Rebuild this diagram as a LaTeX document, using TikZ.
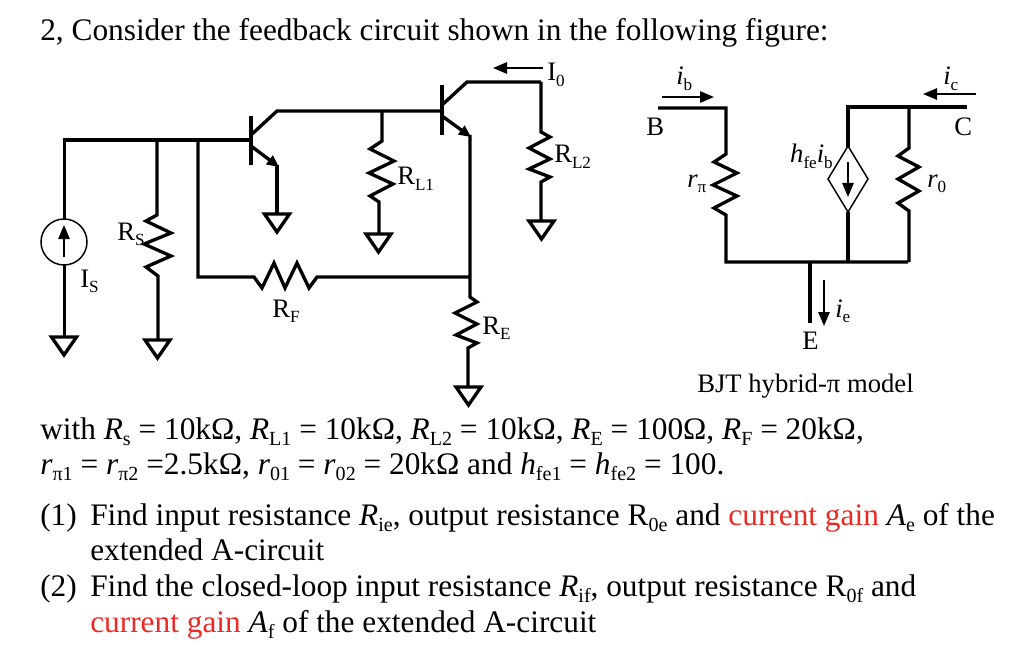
\documentclass[tikz,border=0pt]{standalone}
\usepackage{fontspec}
\setmainfont{Liberation Serif}
\usepackage{xcolor}
\usetikzlibrary{arrows.meta}
\definecolor{gainred}{RGB}{236,40,36}
\makeatletter
\newcommand{\sbs}[1]{\raisebox{-0.2em}{\fontsize{\strip@pt\dimexpr0.64\dimexpr\f@size pt\relax\relax}{0}\selectfont #1}}
\makeatother
\newcommand{\R}[1]{\textit{R}\sbs{#1}}
\newcommand{\grnd}[1]{\draw[wire,fill=white] (#1) ++(-12.5,0) -- ++(25,0) -- ++(-12.5,18) -- cycle;}
\tikzset{
  wire/.style={line width=2.5pt,line join=miter},
  thin wire/.style={line width=1.1pt},
  cur/.style={line width=1.3pt,-{Triangle[length=10.5pt,width=8.5pt]}},
  txt/.style={anchor=base west,inner sep=0pt,font=\fontsize{23.5}{28}\selectfont},
  lab/.style={anchor=base west,inner sep=0pt,font=\fontsize{20}{24}\selectfont}
}
\begin{document}
\begin{tikzpicture}[x=0.75pt,y=-0.75pt]
\useasboundingbox (0,0) rectangle (1024,656);

% input side
\coordinate (inTop) at (64.5,140);
\coordinate (baseOne) at (251,140);
\coordinate (tapS) at (157,140);
\coordinate (tapF) at (198,140);
\coordinate (nodeE) at (469,277);
\draw[wire] (64.5,337) -- (64.5,265);
\draw[wire] (64.5,219) -- (inTop) -- (baseOne);
\draw[thin wire] (64,242) circle (23);
\draw[cur] (64,257) -- (64,225);
\grnd{64,337}
\draw[wire] (tapS) -- (157,215) -- (146,221) -- (171,233) -- (144,244) -- (171,256) -- (146,267) -- (158,276) -- (158,340);
\grnd{157.5,340}
\draw[wire] (tapF) -- (198,277) -- (254,277) -- (262,288) -- (274,263) -- (285,288) -- (297,263) -- (309,288) -- (317,277) -- (nodeE);

% first transistor
\draw[wire] (251,116) -- (251,165);
\draw[wire] (251,135) -- (277,111) -- (442,111);
\draw[wire,-{Triangle[length=9pt,width=8pt]}] (251,146) -- (279,167);
\draw[wire] (277,165) -- (277,214);
\grnd{277,214}
\draw[wire] (382,111) -- (382,141) -- (370,149) -- (394,161) -- (369,173) -- (393,184) -- (370,196) -- (379,202) -- (379,234);
\grnd{378.5,234}

% second transistor
\draw[wire] (442,85) -- (442,135);
\draw[wire] (442,105) -- (467,82) -- (541,82);
\draw[wire,-{Triangle[length=9pt,width=8pt]}] (442,116) -- (471,137);
\draw[wire] (470,135) -- (470,297) -- (477,302) -- (455,313) -- (477,324) -- (456,335) -- (477,343) -- (468,348) -- (468,387);
\grnd{468.5,387}
\draw[wire] (541,82) -- (541,132) -- (550,137) -- (529,148) -- (550,159) -- (529,169) -- (550,177) -- (541,182) -- (541,221);
\grnd{541.5,221}
\draw[cur] (543,68) -- (493,68);

\node[lab] (labS) at (117,240) {R\sbs{S}};
\node[lab] (labIS) at (80,287) {I\sbs{S}};
\node[lab] (labF) at (272,317) {R\sbs{F}};
\node[lab] (labLa) at (397,185) {R\sbs{L1}};
\node[lab] (labLb) at (554,163) {R\sbs{L2}};
\node[lab] (labE) at (482,334) {R\sbs{E}};
\node[lab] (labIo) at (547,81) {I\sbs{0}};

% hybrid-pi model
\coordinate (pinB) at (658,108);
\coordinate (pinC) at (967,107);
\coordinate (pinE) at (810,323);
\draw[wire] (pinB) -- (726,108) -- (726,154) -- (714,162) -- (737,173) -- (713,185) -- (737,196) -- (714,208) -- (726,215) -- (726,262) -- (908,262);
\draw[wire] (pinC) -- (848,107) -- (848,147);
\draw[wire] (848,212) -- (848,262);
\draw[wire] (909,107) -- (909,148) -- (898,156) -- (919,167) -- (898,179) -- (919,191) -- (898,203) -- (909,211) -- (909,262);
\draw[wire] (810,262) -- (pinE);
\draw[thin wire] (848,146) -- (868,179) -- (848,212) -- (828,179) -- cycle;
\draw[cur] (848,162) -- (848,197);
\draw[cur] (662,97) -- (714,97);
\draw[cur] (976,94) -- (923,94);
\draw[cur] (824,280) -- (824,326);

\node[lab] (labib) at (676,85) {\textit{i}\sbs{b}};
\node[lab] (labic) at (943,85) {\textit{i}\sbs{c}};
\node[lab] (labB) at (646,136) {B};
\node[lab] (labC) at (954,136) {C};
\node[lab,anchor=base east] (labh) at (833,163) {\textit{h}\sbs{fe}\textit{i}\sbs{b}};
\node[lab] (labrp) at (687,187) {\textit{r}\sbs{π}};
\node[lab] (labro) at (927,187) {\textit{r}\sbs{0}};
\node[lab] (labie) at (835,317) {\textit{i}\sbs{e}};
\node[lab] (labEE) at (802,349) {E};
\node[lab] (labModel) at (697,392) {BJT hybrid-π model};

% problem text
\node[txt] (title) at (40,41) {2, Consider the feedback circuit shown in the following figure:};
\node[txt] (withA) at (40,439) {with \R{s} = 10kΩ, \R{L1} = 10kΩ, \R{L2} = 10kΩ, \R{E} = 100Ω, \R{F} = 20kΩ,};
\node[txt] (withB) at (40,474) {\textit{r}\sbs{π1} = \textit{r}\sbs{π2} =2.5kΩ, \textit{r}\sbs{01} = \textit{r}\sbs{02} = 20kΩ and \textit{h}\sbs{fe1} = \textit{h}\sbs{fe2} = 100.};
\node[txt] (numA) at (40,525) {(1)};
\node[txt] (partA) at (90,525) {Find input resistance \R{ie}, output resistance R\sbs{0e} and \textcolor{gainred}{current gain} \textit{A}\sbs{e} of the};
\node[txt] (partAb) at (90,560) {extended A-circuit};
\node[txt] (numB) at (40,596) {(2)};
\node[txt] (partB) at (90,596) {Find the closed-loop input resistance \R{if}, output resistance R\sbs{0f} and};
\node[txt] (partBb) at (90,632) {\textcolor{gainred}{current gain} \textit{A}\sbs{f} of the extended A-circuit};
\end{tikzpicture}
\end{document}
